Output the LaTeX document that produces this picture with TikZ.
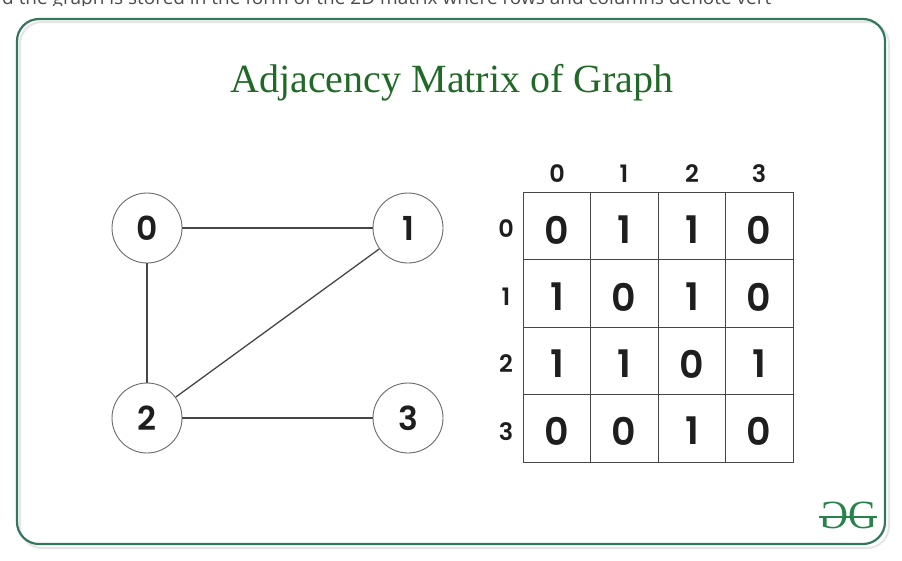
\documentclass[tikz,border=0pt]{standalone}
\usepackage{fontspec}
\setmainfont{Liberation Serif}
\newfontfamily\popfont{Poppins SemiBold}
\newfontfamily\notefont{Open Sans}
\definecolor{gfgframe}{RGB}{52,120,92}
\definecolor{gfgtitle}{RGB}{33,105,38}
\definecolor{gfglogo}{RGB}{40,130,75}
\definecolor{inkgray}{RGB}{30,30,30}
\definecolor{linegray}{RGB}{70,70,70}

\begin{document}
\begin{tikzpicture}[x=1pt,y=-1pt,
    vertex/.style={circle,draw=linegray!80,line width=0.9pt,fill=white,minimum size=70pt,inner sep=0pt,text=inkgray,font=\popfont\fontsize{33}{33}\selectfont},
    cell/.style={text=inkgray,font=\popfont\fontsize{38}{38}\selectfont},
    hdr/.style={text=inkgray,font=\popfont\fontsize{24}{24}\selectfont},
    gridline/.style={draw=linegray,line width=0.9pt},
    edge/.style={draw=linegray,line width=1.3pt}]
    \fill[white] (0,0) rectangle (902,560);
    \useasboundingbox (0,0) rectangle (902,560);
    % cut-off line of text at the top
    \begin{scope}
    \clip (0,0) rectangle (902,5);
    \node[anchor=base west,inner sep=0pt,text=black!70,font=\notefont\fontsize{19}{19}\selectfont] (note) at (2,4) {d the graph is stored in the form of the 2D matrix where rows and columns denote vert};
    \end{scope}
    % frame
    \draw[black!10,line width=2pt,rounded corners=22pt] (20,22) rectangle (889,548);
    \draw[gfgframe,line width=2.2pt,rounded corners=22pt] (17,19) rectangle (885,544);
    \node[anchor=base,text=gfgtitle,font=\fontsize{40}{40}\selectfont] (title) at (452,92) {Adjacency Matrix of Graph};
    % graph
    \node[vertex] (va) at (147,228) {0};
    \node[vertex] (vb) at (408,228) {1};
    \node[vertex] (vc) at (147,418) {2};
    \node[vertex] (vd) at (408,418) {3};
    \draw[edge] (va) -- (vb);
    \draw[edge] (va) -- (vc);
    \draw[edge] (vb) -- (vc);
    \draw[edge] (vc) -- (vd);
    % matrix
    \draw[gridline] (523,192) rectangle (793,462);
    \draw[gridline] (590.5,192)--(590.5,462);
    \draw[gridline] (658,192)--(658,462);
    \draw[gridline] (725.5,192)--(725.5,462);
    \draw[gridline] (523,259.5)--(793,259.5);
    \draw[gridline] (523,327)--(793,327);
    \draw[gridline] (523,394.5)--(793,394.5);
    \node[hdr] (ca) at (557,174) {0};
    \node[hdr] (cb) at (624,174) {1};
    \node[hdr] (cc) at (692,174) {2};
    \node[hdr] (cd) at (759,174) {3};
    \node[hdr] (ra) at (506,229) {0};
    \node[hdr] (rb) at (506,297) {1};
    \node[hdr] (rc) at (506,364) {2};
    \node[hdr] (rd) at (506,432) {3};
    \node[cell] (maa) at (557,230) {0};
    \node[cell] (mab) at (624,230) {1};
    \node[cell] (mac) at (692,230) {1};
    \node[cell] (mad) at (759,230) {0};
    \node[cell] (mba) at (557,297) {1};
    \node[cell] (mbb) at (624,297) {0};
    \node[cell] (mbc) at (692,297) {1};
    \node[cell] (mbd) at (759,297) {0};
    \node[cell] (mca) at (557,364) {1};
    \node[cell] (mcb) at (624,364) {1};
    \node[cell] (mcc) at (692,364) {0};
    \node[cell] (mcd) at (759,364) {1};
    \node[cell] (mda) at (557,431) {0};
    \node[cell] (mdb) at (624,431) {0};
    \node[cell] (mdc) at (692,431) {1};
    \node[cell] (mdd) at (759,431) {0};
    % logo
    \node[anchor=base,inner sep=0pt,text=gfglogo,font=\fontsize{40}{40}\selectfont] (logo) at (848,528) {\reflectbox{G}G};
    \draw[gfglogo,line width=1.8pt] ([yshift=11pt]logo.base west) -- ([yshift=11pt]logo.base east);
\end{tikzpicture}
\end{document}
